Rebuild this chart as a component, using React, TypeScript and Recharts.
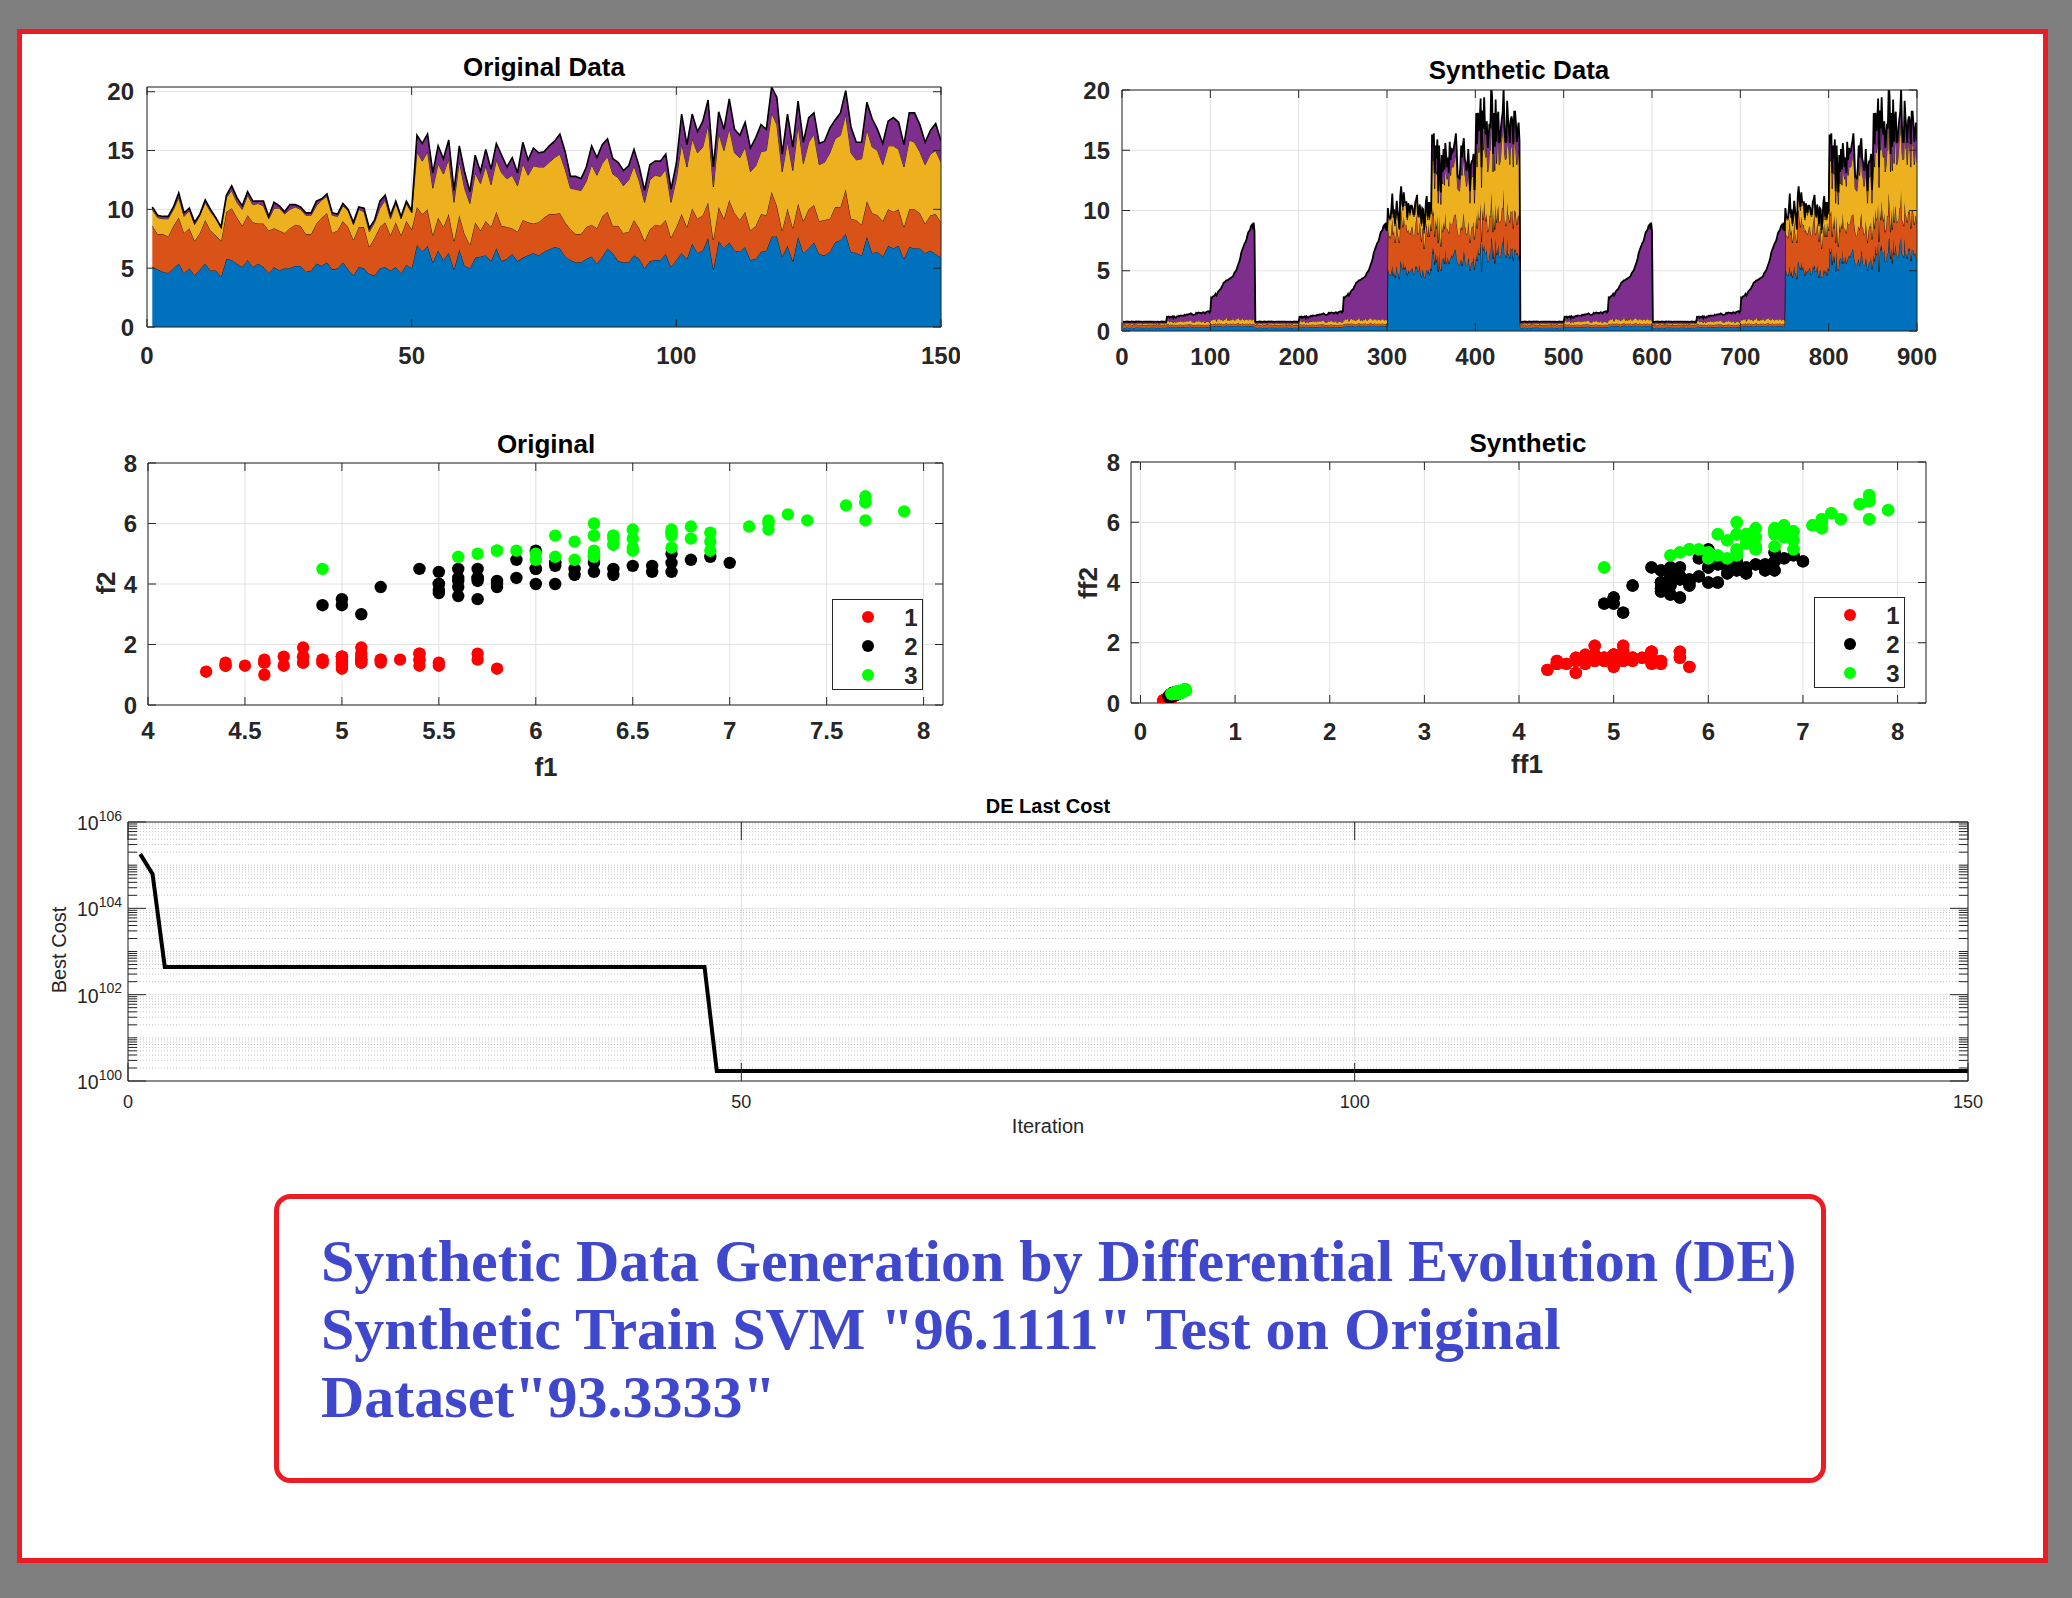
import React from 'react';
import {
  AreaChart, Area, ScatterChart, Scatter, LineChart, Line,
  XAxis, YAxis, CartesianGrid, ReferenceLine, Legend,
} from 'recharts';

// ---------------- data: Fisher iris (original data) ----------------
const sepalLength = [
  5.1, 4.9, 4.7, 4.6, 5.0, 5.4, 4.6, 5.0, 4.4, 4.9,
  5.4, 4.8, 4.8, 4.3, 5.8, 5.7, 5.4, 5.1, 5.7, 5.1,
  5.4, 5.1, 4.6, 5.1, 4.8, 5.0, 5.0, 5.2, 5.2, 4.7,
  4.8, 5.4, 5.2, 5.5, 4.9, 5.0, 5.5, 4.9, 4.4, 5.1,
  5.0, 4.5, 4.4, 5.0, 5.1, 4.8, 5.1, 4.6, 5.3, 5.0,
  7.0, 6.4, 6.9, 5.5, 6.5, 5.7, 6.3, 4.9, 6.6, 5.2,
  5.0, 5.9, 6.0, 6.1, 5.6, 6.7, 5.6, 5.8, 6.2, 5.6,
  5.9, 6.1, 6.3, 6.1, 6.4, 6.6, 6.8, 6.7, 6.0, 5.7,
  5.5, 5.5, 5.8, 6.0, 5.4, 6.0, 6.7, 6.3, 5.6, 5.5,
  5.5, 6.1, 5.8, 5.0, 5.6, 5.7, 5.7, 6.2, 5.1, 5.7,
  6.3, 5.8, 7.1, 6.3, 6.5, 7.6, 4.9, 7.3, 6.7, 7.2,
  6.5, 6.4, 6.8, 5.7, 5.8, 6.4, 6.5, 7.7, 7.7, 6.0,
  6.9, 5.6, 7.7, 6.3, 6.7, 7.2, 6.2, 6.1, 6.4, 7.2,
  7.4, 7.9, 6.4, 6.3, 6.1, 7.7, 6.3, 6.4, 6.0, 6.9,
  6.7, 6.9, 5.8, 6.8, 6.7, 6.7, 6.3, 6.5, 6.2, 5.9,
];
const sepalWidth = [
  3.5, 3.0, 3.2, 3.1, 3.6, 3.9, 3.4, 3.4, 2.9, 3.1,
  3.7, 3.4, 3.0, 3.0, 4.0, 4.4, 3.9, 3.5, 3.8, 3.8,
  3.4, 3.7, 3.6, 3.3, 3.4, 3.0, 3.4, 3.5, 3.4, 3.2,
  3.1, 3.4, 4.1, 4.2, 3.1, 3.2, 3.5, 3.6, 3.0, 3.4,
  3.5, 2.3, 3.2, 3.5, 3.8, 3.0, 3.8, 3.2, 3.7, 3.3,
  3.2, 3.2, 3.1, 2.3, 2.8, 2.8, 3.3, 2.4, 2.9, 2.7,
  2.0, 3.0, 2.2, 2.9, 2.9, 3.1, 3.0, 2.7, 2.2, 2.5,
  3.2, 2.8, 2.5, 2.8, 2.9, 3.0, 2.8, 3.0, 2.9, 2.6,
  2.4, 2.4, 2.7, 2.7, 3.0, 3.4, 3.1, 2.3, 3.0, 2.5,
  2.6, 3.0, 2.6, 2.3, 2.7, 3.0, 2.9, 2.9, 2.5, 2.8,
  3.3, 2.7, 3.0, 2.9, 3.0, 3.0, 2.5, 2.9, 2.5, 3.6,
  3.2, 2.7, 3.0, 2.5, 2.8, 3.2, 3.0, 3.8, 2.6, 2.2,
  3.2, 2.8, 2.8, 2.7, 3.3, 3.2, 2.8, 3.0, 2.8, 3.0,
  2.8, 3.8, 2.8, 2.8, 2.6, 3.0, 3.4, 3.1, 3.0, 3.1,
  3.1, 3.1, 2.7, 3.2, 3.3, 3.0, 2.5, 3.0, 3.4, 3.0,
];
const petalLength = [
  1.4, 1.4, 1.3, 1.5, 1.4, 1.7, 1.4, 1.5, 1.4, 1.5,
  1.5, 1.6, 1.4, 1.1, 1.2, 1.5, 1.3, 1.4, 1.7, 1.5,
  1.7, 1.5, 1.0, 1.7, 1.9, 1.6, 1.6, 1.5, 1.4, 1.6,
  1.6, 1.5, 1.5, 1.4, 1.5, 1.2, 1.3, 1.4, 1.3, 1.5,
  1.3, 1.3, 1.3, 1.6, 1.9, 1.4, 1.6, 1.4, 1.5, 1.4,
  4.7, 4.5, 4.9, 4.0, 4.6, 4.5, 4.7, 3.3, 4.6, 3.9,
  3.5, 4.2, 4.0, 4.7, 3.6, 4.4, 4.5, 4.1, 4.5, 3.9,
  4.8, 4.0, 4.9, 4.7, 4.3, 4.4, 4.8, 5.0, 4.5, 3.5,
  3.8, 3.7, 3.9, 5.1, 4.5, 4.5, 4.7, 4.4, 4.1, 4.0,
  4.4, 4.6, 4.0, 3.3, 4.2, 4.2, 4.2, 4.3, 3.0, 4.1,
  6.0, 5.1, 5.9, 5.6, 5.8, 6.6, 4.5, 6.3, 5.8, 6.1,
  5.1, 5.3, 5.5, 5.0, 5.1, 5.3, 5.5, 6.7, 6.9, 5.0,
  5.7, 4.9, 6.7, 4.9, 5.7, 6.0, 4.8, 4.9, 5.6, 5.8,
  6.1, 6.4, 5.6, 5.1, 5.6, 6.1, 5.6, 5.5, 4.8, 5.4,
  5.6, 5.1, 5.1, 5.9, 5.7, 5.2, 5.0, 5.2, 5.4, 5.1,
];
const petalWidth = [
  0.2, 0.2, 0.2, 0.2, 0.2, 0.4, 0.3, 0.2, 0.2, 0.1,
  0.2, 0.2, 0.1, 0.1, 0.2, 0.4, 0.4, 0.3, 0.3, 0.3,
  0.2, 0.4, 0.2, 0.5, 0.2, 0.2, 0.4, 0.2, 0.2, 0.2,
  0.2, 0.4, 0.1, 0.2, 0.2, 0.2, 0.2, 0.1, 0.2, 0.2,
  0.3, 0.3, 0.2, 0.6, 0.4, 0.3, 0.2, 0.2, 0.2, 0.2,
  1.4, 1.5, 1.5, 1.3, 1.5, 1.3, 1.6, 1.0, 1.3, 1.4,
  1.0, 1.5, 1.0, 1.4, 1.3, 1.4, 1.5, 1.0, 1.5, 1.1,
  1.8, 1.3, 1.5, 1.2, 1.3, 1.4, 1.4, 1.7, 1.5, 1.0,
  1.1, 1.0, 1.2, 1.6, 1.5, 1.6, 1.5, 1.3, 1.3, 1.3,
  1.2, 1.4, 1.2, 1.0, 1.3, 1.2, 1.3, 1.3, 1.1, 1.3,
  2.5, 1.9, 2.1, 1.8, 2.2, 2.1, 1.7, 1.8, 1.8, 2.5,
  2.0, 1.9, 2.1, 2.0, 2.4, 2.3, 1.8, 2.2, 2.3, 1.5,
  2.3, 2.0, 2.0, 1.8, 2.1, 1.8, 1.8, 1.8, 2.1, 1.6,
  1.9, 2.0, 2.2, 1.5, 1.4, 2.3, 2.4, 1.8, 1.8, 2.1,
  2.4, 2.3, 1.9, 2.3, 2.5, 2.3, 1.9, 2.0, 2.3, 1.8,
];

// ---------------- data: DE-generated block of the synthetic set ----------------
const genBlue = [
  0.29, 0.27, 0.26, 0.28, 0.30, 0.31, 0.27, 0.29, 0.25, 0.28,
  0.31, 0.28, 0.27, 0.24, 0.30, 0.32, 0.30, 0.29, 0.31, 0.29,
  0.30, 0.29, 0.26, 0.29, 0.28, 0.28, 0.29, 0.30, 0.30, 0.27,
  0.28, 0.30, 0.30, 0.31, 0.28, 0.29, 0.31, 0.28, 0.25, 0.29,
  0.29, 0.26, 0.25, 0.29, 0.30, 0.28, 0.29, 0.27, 0.30, 0.29,
  0.39, 0.36, 0.38, 0.32, 0.37, 0.33, 0.36, 0.30, 0.37, 0.31,
  0.30, 0.34, 0.34, 0.35, 0.33, 0.38, 0.33, 0.34, 0.35, 0.33,
  0.34, 0.35, 0.36, 0.35, 0.36, 0.37, 0.38, 0.38, 0.34, 0.33,
  0.32, 0.32, 0.34, 0.34, 0.32, 0.34, 0.38, 0.36, 0.33, 0.32,
  0.32, 0.35, 0.34, 0.30, 0.33, 0.33, 0.33, 0.36, 0.31, 0.33,
  0.40, 0.37, 0.44, 0.40, 0.41, 0.47, 0.33, 0.45, 0.42, 0.45,
  0.41, 0.40, 0.43, 0.36, 0.37, 0.40, 0.41, 0.47, 0.47, 0.38,
  0.43, 0.36, 0.47, 0.40, 0.42, 0.45, 0.39, 0.39, 0.40, 0.45,
  0.46, 0.48, 0.40, 0.40, 0.39, 0.47, 0.40, 0.40, 0.38, 0.43,
  0.42, 0.43, 0.37, 0.42, 0.42, 0.42, 0.40, 0.41, 0.39, 0.37,
];
const genOrange = [
  0.21, 0.20, 0.21, 0.20, 0.22, 0.23, 0.21, 0.21, 0.19, 0.20,
  0.22, 0.21, 0.20, 0.20, 0.23, 0.24, 0.23, 0.21, 0.22, 0.22,
  0.21, 0.22, 0.22, 0.20, 0.21, 0.20, 0.21, 0.21, 0.21, 0.20,
  0.20, 0.21, 0.24, 0.24, 0.20, 0.20, 0.21, 0.22, 0.20, 0.21,
  0.21, 0.17, 0.20, 0.21, 0.22, 0.20, 0.22, 0.20, 0.22, 0.21,
  0.20, 0.20, 0.19, 0.16, 0.18, 0.18, 0.20, 0.16, 0.19, 0.18,
  0.15, 0.19, 0.16, 0.19, 0.19, 0.19, 0.19, 0.18, 0.16, 0.17,
  0.20, 0.18, 0.17, 0.18, 0.19, 0.19, 0.18, 0.19, 0.19, 0.17,
  0.17, 0.17, 0.18, 0.18, 0.19, 0.20, 0.19, 0.16, 0.19, 0.17,
  0.17, 0.19, 0.17, 0.16, 0.18, 0.19, 0.19, 0.19, 0.17, 0.18,
  0.20, 0.18, 0.19, 0.19, 0.19, 0.19, 0.17, 0.19, 0.17, 0.21,
  0.20, 0.18, 0.19, 0.17, 0.18, 0.20, 0.19, 0.22, 0.17, 0.16,
  0.20, 0.18, 0.18, 0.18, 0.20, 0.20, 0.18, 0.19, 0.18, 0.19,
  0.18, 0.22, 0.18, 0.18, 0.17, 0.19, 0.20, 0.19, 0.19, 0.19,
  0.19, 0.19, 0.18, 0.20, 0.20, 0.19, 0.17, 0.19, 0.20, 0.19,
];
const genYellow = [
  0.10, 0.10, 0.09, 0.11, 0.10, 0.13, 0.10, 0.11, 0.10, 0.11,
  0.11, 0.12, 0.10, 0.07, 0.08, 0.11, 0.09, 0.10, 0.13, 0.11,
  0.13, 0.11, 0.06, 0.13, 0.15, 0.12, 0.12, 0.11, 0.10, 0.12,
  0.12, 0.11, 0.11, 0.10, 0.11, 0.08, 0.09, 0.10, 0.09, 0.11,
  0.09, 0.09, 0.09, 0.12, 0.15, 0.10, 0.12, 0.10, 0.11, 0.10,
  0.30, 0.29, 0.31, 0.25, 0.29, 0.29, 0.30, 0.20, 0.29, 0.24,
  0.22, 0.27, 0.25, 0.30, 0.23, 0.28, 0.29, 0.26, 0.29, 0.24,
  0.31, 0.25, 0.31, 0.30, 0.27, 0.28, 0.31, 0.32, 0.29, 0.22,
  0.24, 0.23, 0.24, 0.33, 0.29, 0.29, 0.30, 0.28, 0.26, 0.25,
  0.28, 0.29, 0.25, 0.20, 0.27, 0.27, 0.27, 0.27, 0.19, 0.26,
  0.40, 0.34, 0.39, 0.37, 0.38, 0.44, 0.30, 0.42, 0.38, 0.40,
  0.34, 0.35, 0.36, 0.33, 0.34, 0.35, 0.36, 0.44, 0.46, 0.33,
  0.38, 0.32, 0.44, 0.32, 0.38, 0.40, 0.32, 0.32, 0.37, 0.38,
  0.40, 0.42, 0.37, 0.34, 0.37, 0.40, 0.37, 0.36, 0.32, 0.36,
  0.37, 0.34, 0.34, 0.39, 0.38, 0.34, 0.33, 0.34, 0.36, 0.34,
];
const genPurple = [
  0.17, 0.19, 0.20, 0.18, 0.16, 0.13, 0.19, 0.17, 0.22, 0.18,
  0.15, 0.17, 0.20, 0.24, 0.16, 0.12, 0.15, 0.17, 0.13, 0.16,
  0.14, 0.16, 0.21, 0.16, 0.14, 0.18, 0.16, 0.16, 0.17, 0.19,
  0.18, 0.16, 0.13, 0.13, 0.19, 0.19, 0.16, 0.17, 0.22, 0.17,
  0.18, 0.24, 0.22, 0.16, 0.13, 0.19, 0.15, 0.20, 0.15, 0.17,
  0.30, 0.33, 0.32, 0.35, 0.34, 0.36, 0.35, 0.40, 0.37, 0.41,
  0.43, 0.40, 0.44, 0.42, 0.46, 0.44, 0.47, 0.49, 0.48, 0.52,
  0.50, 0.53, 0.52, 0.55, 0.54, 0.57, 0.55, 0.58, 0.60, 0.62,
  0.61, 0.64, 0.63, 0.66, 0.65, 0.68, 0.67, 0.70, 0.72, 0.71,
  0.74, 0.73, 0.77, 0.79, 0.78, 0.81, 0.83, 0.82, 0.86, 0.88,
  1.78, 1.85, 1.85, 1.94, 1.98, 1.98, 2.15, 2.04, 2.33, 2.29,
  2.50, 2.57, 2.72, 2.94, 3.11, 3.10, 3.14, 3.07, 3.10, 3.38,
  3.29, 3.49, 3.31, 3.55, 3.50, 3.55, 3.91, 4.00, 4.05, 4.16,
  4.36, 4.48, 4.85, 5.18, 5.57, 5.64, 5.93, 6.15, 6.41, 6.41,
  6.62, 6.99, 7.31, 7.29, 7.40, 7.75, 7.90, 7.66, 8.05, 7.40,
];
// order of the six 150-row blocks that make up the 900-row synthetic set
const synthBlockOrder = ['gen', 'gen', 'orig', 'gen', 'gen', 'orig'];

// ---------------- data: DE convergence ----------------
const bestCost = [
  1.8e105, 6.3e104,
  4.4e102, 4.4e102, 4.4e102, 4.4e102, 4.4e102, 4.4e102, 4.4e102, 4.4e102, 4.4e102,
  4.4e102, 4.4e102, 4.4e102, 4.4e102, 4.4e102, 4.4e102, 4.4e102, 4.4e102, 4.4e102,
  4.4e102, 4.4e102, 4.4e102, 4.4e102, 4.4e102, 4.4e102, 4.4e102, 4.4e102, 4.4e102,
  4.4e102, 4.4e102, 4.4e102, 4.4e102, 4.4e102, 4.4e102, 4.4e102, 4.4e102, 4.4e102,
  4.4e102, 4.4e102, 4.4e102, 4.4e102, 4.4e102, 4.4e102, 4.4e102, 4.4e102, 4.4e102,
  1.7e100, 1.7e100, 1.7e100, 1.7e100, 1.7e100, 1.7e100, 1.7e100, 1.7e100, 1.7e100, 1.7e100,
  1.7e100, 1.7e100, 1.7e100, 1.7e100, 1.7e100, 1.7e100, 1.7e100, 1.7e100, 1.7e100, 1.7e100,
  1.7e100, 1.7e100, 1.7e100, 1.7e100, 1.7e100, 1.7e100, 1.7e100, 1.7e100, 1.7e100, 1.7e100,
  1.7e100, 1.7e100, 1.7e100, 1.7e100, 1.7e100, 1.7e100, 1.7e100, 1.7e100, 1.7e100, 1.7e100,
  1.7e100, 1.7e100, 1.7e100, 1.7e100, 1.7e100, 1.7e100, 1.7e100, 1.7e100, 1.7e100, 1.7e100,
  1.7e100, 1.7e100, 1.7e100, 1.7e100, 1.7e100, 1.7e100, 1.7e100, 1.7e100, 1.7e100, 1.7e100,
  1.7e100, 1.7e100, 1.7e100, 1.7e100, 1.7e100, 1.7e100, 1.7e100, 1.7e100, 1.7e100, 1.7e100,
  1.7e100, 1.7e100, 1.7e100, 1.7e100, 1.7e100, 1.7e100, 1.7e100, 1.7e100, 1.7e100, 1.7e100,
  1.7e100, 1.7e100, 1.7e100, 1.7e100, 1.7e100, 1.7e100, 1.7e100, 1.7e100, 1.7e100, 1.7e100,
  1.7e100, 1.7e100, 1.7e100, 1.7e100, 1.7e100, 1.7e100, 1.7e100, 1.7e100, 1.7e100, 1.7e100,
  1.7e100, 1.7e100, 1.7e100,
];

// ---------------- labels / ticks ----------------
const classLabels = ['1', '2', '3'];
const classColors = ['#ff0000', '#000000', '#00ff00'];
const layerKeys = ['c1', 'c2', 'c3', 'c4'];
const layerColors = ['#0072BD', '#D95319', '#EDB120', '#7E2F8E'];
const origXTicks = [0, 50, 100, 150];
const areaYTicks = [0, 5, 10, 15, 20];
const synthXTicks = [0, 100, 200, 300, 400, 500, 600, 700, 800, 900];
const f1Ticks = [4, 4.5, 5, 5.5, 6, 6.5, 7, 7.5, 8];
const ff1Ticks = [0, 1, 2, 3, 4, 5, 6, 7, 8];
const scatterYTicks = [0, 2, 4, 6, 8];
const iterTicks = [0, 50, 100, 150];
const majorLog = [1e100, 1e102, 1e104, 1e106];
const noteLines = [
  'Synthetic Data Generation by Differential Evolution (DE)',
  'Synthetic Train SVM "96.1111" Test on Original',
  'Dataset"93.3333"',
];

// ---------------- derived tables ----------------
const origCols = [sepalLength, sepalWidth, petalLength, petalWidth];
const genCols = [genBlue, genOrange, genYellow, genPurple];
const origRows = sepalLength.map((_, r) => ({
  i: r + 1, c1: origCols[0][r], c2: origCols[1][r], c3: origCols[2][r], c4: origCols[3][r],
}));
const synthRows: any[] = [];
synthBlockOrder.forEach((b, bi) => {
  const cols = b === 'orig' ? origCols : genCols;
  for (let r = 0; r < 150; r++) {
    synthRows.push({
      i: bi * 150 + r + 1,
      c1: cols[0][r], c2: cols[1][r], c3: cols[2][r], c4: cols[3][r],
      cls: Math.floor(r / 50),
    });
  }
});
const origPoints = classLabels.map((_, c) =>
  origRows.filter((_r, r) => Math.floor(r / 50) === c).map((row) => ({ x: row.c1, y: row.c3 })));
const synthPoints = classLabels.map((_, c) =>
  synthRows.filter((row) => row.cls === c).map((row) => ({ x: row.c1, y: row.c3 })));
const costRows = bestCost.map((v, k) => ({ it: k + 1, cost: v }));
const minorLog: number[] = [];
for (let k = 100; k < 106; k++) {
  for (let m = 1; m <= 9; m++) {
    const v = m * Math.pow(10, k);
    if (m === 1 && k % 2 === 0) continue;
    minorLog.push(v);
  }
}
const allLog = [...majorLog, ...minorLog];

// ---------------- styling helpers ----------------
const FONT = '"Liberation Sans", Arial, Helvetica, sans-serif';
const SERIF = '"Liberation Serif", "Times New Roman", serif';
const AXIS = '#262626';
const GRID = '#e2e2e2';

type Box = { left: number; top: number; width: number; height: number };
type Plot = { x0: number; y0: number; x1: number; y1: number };
function marginFor(box: Box, plot: Plot, leftW: number, bottomH: number) {
  return {
    left: plot.x0 - box.left - leftW,
    top: plot.y0 - box.top - 1,
    right: box.left + box.width - plot.x1 - 1,
    bottom: box.top + box.height - plot.y1 - bottomH,
  };
}
const NoLabel = () => <g />;
const boldTick = { fontSize: 24, fontWeight: 700, fill: AXIS, fontFamily: FONT };
const lineStyle = { stroke: AXIS, strokeWidth: 1 };

function boxAxes(p: {
  xKey?: string; yKey?: string; xDomain: number[]; xTicks: number[]; yDomain: number[]; yTicks: number[];
  leftW: number; bottomH: number; xMargin: number; yMargin: number; tickLen: number;
}) {
  return [
    <XAxis key="xb" type="number" dataKey={p.xKey} domain={p.xDomain} ticks={p.xTicks} interval={0}
      allowDataOverflow height={p.bottomH} tickSize={-p.tickLen} tickMargin={p.xMargin} tick={boldTick}
      stroke={AXIS} axisLine={lineStyle} tickLine={lineStyle} />,
    <XAxis key="xt" xAxisId="t" orientation="top" type="number" dataKey={p.xKey} domain={p.xDomain}
      ticks={p.xTicks} interval={0} allowDataOverflow height={1} tickSize={-p.tickLen} tick={NoLabel}
      stroke={AXIS} axisLine={lineStyle} tickLine={lineStyle} />,
    <YAxis key="yl" type="number" dataKey={p.yKey} domain={p.yDomain} ticks={p.yTicks} interval={0}
      allowDataOverflow width={p.leftW} tickSize={-p.tickLen} tickMargin={p.yMargin} tick={boldTick}
      stroke={AXIS} axisLine={lineStyle} tickLine={lineStyle} />,
    <YAxis key="yr" yAxisId="r" orientation="right" type="number" dataKey={p.yKey} domain={p.yDomain}
      ticks={p.yTicks} interval={0} allowDataOverflow width={1} tickSize={-p.tickLen} tick={NoLabel}
      stroke={AXIS} axisLine={lineStyle} tickLine={lineStyle} />,
  ];
}

const LegendBox = () => (
  <svg width={91} height={91} style={{ display: 'block' }}>
    <rect x={0.5} y={0.5} width={90} height={90} fill="#fff" stroke={AXIS} strokeWidth={1} />
    {classLabels.map((lab, c) => (
      <g key={lab}>
        <circle cx={36} cy={18 + c * 29} r={6} fill={classColors[c]} />
        <text x={79} y={18 + c * 29 + 8.5} textAnchor="middle" fontFamily={FONT} fontWeight={700}
          fontSize={24} fill={AXIS}>{lab}</text>
      </g>
    ))}
  </svg>
);

// ---------------- geometry ----------------
const c1Box = { left: 60, top: 50, width: 900, height: 330 };
const c1Plot = { x0: 147, y0: 87, x1: 941, y1: 327 };
const c2Box = { left: 1040, top: 50, width: 900, height: 330 };
const c2Plot = { x0: 1122, y0: 90, x1: 1917, y1: 331 };
const c3Box = { left: 60, top: 440, width: 900, height: 320 };
const c3Plot = { x0: 148, y0: 463, x1: 943, y1: 705 };
const c4Box = { left: 1040, top: 440, width: 900, height: 320 };
const c4Plot = { x0: 1131, y0: 462, x1: 1926, y1: 703 };
const c5Box = { left: 30, top: 790, width: 2000, height: 360 };
const c5Plot = { x0: 128, y0: 822, x1: 1968, y1: 1081 };

const LogTick = (props: any) => {
  const { x, y, payload } = props;
  const exp = Math.round(Math.log10(payload.value));
  return (
    <text x={x} y={y + 8} textAnchor="end" fill={AXIS} fontFamily={FONT} fontSize={19.5}>
      10<tspan dy={-9.5} fontSize={14}>{exp}</tspan>
    </text>
  );
};
const edgeL = c5Plot.x0 - c5Box.left;
const edgeR = c5Plot.x1 - c5Box.left;
const EdgeTick = (props: any) => {
  const { y, payload } = props;
  const len = majorLog.includes(payload.value) ? 18 : 9;
  return (
    <g>
      <line x1={edgeL} x2={edgeL + len} y1={y} y2={y} stroke={AXIS} strokeWidth={1} />
      <line x1={edgeR - len} x2={edgeR} y1={y} y2={y} stroke={AXIS} strokeWidth={1} />
    </g>
  );
};

function StackedAreas(stroke: number, top: number) {
  return layerKeys.map((k, j) => (
    <Area key={k} type="linear" dataKey={k} stackId="s" stroke="#000" strokeWidth={j === 3 ? top : stroke}
      fill={layerColors[j]} fillOpacity={1} dot={false} activeDot={false} isAnimationActive={false} />
  ));
}

export default function App() {
  return (
    <div style={{ position: 'absolute', left: 0, top: 0, width: 2072, height: 1598, background: '#7f7f7f', overflow: 'hidden' }}>
      <div style={{ position: 'absolute', left: 17, top: 29, width: 2031, height: 1534, background: '#fff', border: '5px solid #ed1c24', boxSizing: 'border-box' }} />

      <svg width={2072} height={1598} style={{ position: 'absolute', left: 0, top: 0 }}>
        <g fontFamily={FONT} fontWeight={700} fontSize={26} textAnchor="middle" fill="#000">
          <text x={544} y={76}>Original Data</text>
          <text x={1519} y={79}>Synthetic Data</text>
          <text x={546} y={453}>Original</text>
          <text x={1528} y={452}>Synthetic</text>
        </g>
        <g fontFamily={FONT} fontWeight={700} fontSize={26} textAnchor="middle" fill={AXIS}>
          <text x={546} y={776}>f1</text>
          <text transform="translate(115,583) rotate(-90)">f2</text>
          <text x={1527} y={773}>ff1</text>
          <text transform="translate(1097,583) rotate(-90)">ff2</text>
        </g>
        <text x={1048} y={813} textAnchor="middle" fontFamily={FONT} fontWeight={700} fontSize={20} fill="#000">DE Last Cost</text>
        <text x={1048} y={1133} textAnchor="middle" fontFamily={FONT} fontSize={20} fill={AXIS}>Iteration</text>
        <text transform="translate(66,950) rotate(-90)" textAnchor="middle" fontFamily={FONT} fontSize={20} fill={AXIS}>Best Cost</text>

        <rect x={276.5} y={1196.5} width={1547} height={284} rx={14} ry={14} fill="#fff" stroke="#ed1c24" strokeWidth={5} />
        <g fontFamily={SERIF} fontWeight={700} fontSize={60} fill="#3f48cc">
          {noteLines.map((t, k) => (
            <text key={k} x={321} y={1281 + k * 68}>{t}</text>
          ))}
        </g>
      </svg>

      {/* Original Data (stacked area) */}
      <div style={{ position: 'absolute', left: c1Box.left, top: c1Box.top }}>
        <AreaChart width={c1Box.width} height={c1Box.height} data={origRows} margin={marginFor(c1Box, c1Plot, 80, 40)}>
          <CartesianGrid stroke={GRID} />
          {boxAxes({ xKey: 'i', xDomain: [0, 150], xTicks: origXTicks, yDomain: [0, 20.4], yTicks: areaYTicks, leftW: 80, bottomH: 40, xMargin: 28, yMargin: 21, tickLen: 8 })}
          {StackedAreas(0.8, 1.6)}
        </AreaChart>
      </div>

      {/* Synthetic Data (stacked area) */}
      <div style={{ position: 'absolute', left: c2Box.left, top: c2Box.top }}>
        <AreaChart width={c2Box.width} height={c2Box.height} data={synthRows} margin={marginFor(c2Box, c2Plot, 70, 40)}>
          <CartesianGrid stroke={GRID} />
          {boxAxes({ xKey: 'i', xDomain: [0, 900], xTicks: synthXTicks, yDomain: [0, 20], yTicks: areaYTicks, leftW: 70, bottomH: 40, xMargin: 25, yMargin: 20, tickLen: 8 })}
          {StackedAreas(0.7, 1.8)}
        </AreaChart>
      </div>

      {/* Original scatter */}
      <div style={{ position: 'absolute', left: c3Box.left, top: c3Box.top }}>
        <ScatterChart width={c3Box.width} height={c3Box.height} margin={marginFor(c3Box, c3Plot, 80, 40)}>
          <CartesianGrid stroke={GRID} />
          {boxAxes({ xKey: 'x', yKey: 'y', xDomain: [4, 8.1], xTicks: f1Ticks, yDomain: [0, 8], yTicks: scatterYTicks, leftW: 80, bottomH: 40, xMargin: 25, yMargin: 19, tickLen: 8 })}
          {classLabels.map((lab, c) => (
            <Scatter key={lab} name={lab} data={origPoints[c]} fill={classColors[c]} isAnimationActive={false}
              shape={(s: any) => <circle cx={s.cx} cy={s.cy} r={6.2} fill={classColors[c]} />} />
          ))}
          <Legend layout="vertical" align="center" verticalAlign="middle"
            wrapperStyle={{ left: 832 - c3Box.left, top: 599 - c3Box.top, width: 91, height: 91 }} content={LegendBox} />
        </ScatterChart>
      </div>

      {/* Synthetic scatter */}
      <div style={{ position: 'absolute', left: c4Box.left, top: c4Box.top }}>
        <ScatterChart width={c4Box.width} height={c4Box.height} margin={marginFor(c4Box, c4Plot, 80, 40)}>
          <CartesianGrid stroke={GRID} />
          {boxAxes({ xKey: 'x', yKey: 'y', xDomain: [-0.1, 8.3], xTicks: ff1Ticks, yDomain: [0, 8], yTicks: scatterYTicks, leftW: 80, bottomH: 40, xMargin: 28, yMargin: 19, tickLen: 8 })}
          {classLabels.map((lab, c) => (
            <Scatter key={lab} name={lab} data={synthPoints[c]} fill={classColors[c]} isAnimationActive={false}
              shape={(s: any) => <circle cx={s.cx} cy={s.cy} r={6.2} fill={classColors[c]} />} />
          ))}
          <Legend layout="vertical" align="center" verticalAlign="middle"
            wrapperStyle={{ left: 1814 - c4Box.left, top: 597 - c4Box.top, width: 91, height: 91 }} content={LegendBox} />
        </ScatterChart>
      </div>

      {/* DE Last Cost (log) */}
      <div style={{ position: 'absolute', left: c5Box.left, top: c5Box.top }}>
        <LineChart width={c5Box.width} height={c5Box.height} data={costRows} margin={marginFor(c5Box, c5Plot, 80, 40)}>
          <CartesianGrid stroke={GRID} />
          {minorLog.map((v) => (
            <ReferenceLine key={v} y={v} stroke="#c6c6c6" strokeDasharray="1 2" strokeWidth={1} />
          ))}
          <XAxis type="number" dataKey="it" domain={[0, 150]} ticks={iterTicks} interval={0} allowDataOverflow
            height={40} tickSize={-18} tickMargin={32} tick={{ fontSize: 18, fill: AXIS, fontFamily: FONT }}
            stroke={AXIS} axisLine={lineStyle} tickLine={lineStyle} />
          <XAxis xAxisId="t" orientation="top" type="number" dataKey="it" domain={[0, 150]} ticks={iterTicks}
            interval={0} allowDataOverflow height={1} tickSize={-18} tick={NoLabel} stroke={AXIS}
            axisLine={lineStyle} tickLine={lineStyle} />
          <YAxis scale="log" type="number" domain={[1e100, 1e106]} ticks={majorLog} interval={0} allowDataOverflow
            width={80} tickSize={0} tickLine={false} tickMargin={6} tick={LogTick} stroke={AXIS} axisLine={lineStyle} />
          <YAxis yAxisId="r" orientation="right" scale="log" type="number" domain={[1e100, 1e106]} ticks={allLog}
            interval={0} allowDataOverflow width={1} tickLine={false} tick={EdgeTick} stroke={AXIS} axisLine={lineStyle} />
          <Line type="linear" dataKey="cost" stroke="#000" strokeWidth={4} dot={false} activeDot={false} isAnimationActive={false} />
        </LineChart>
      </div>
    </div>
  );
}
